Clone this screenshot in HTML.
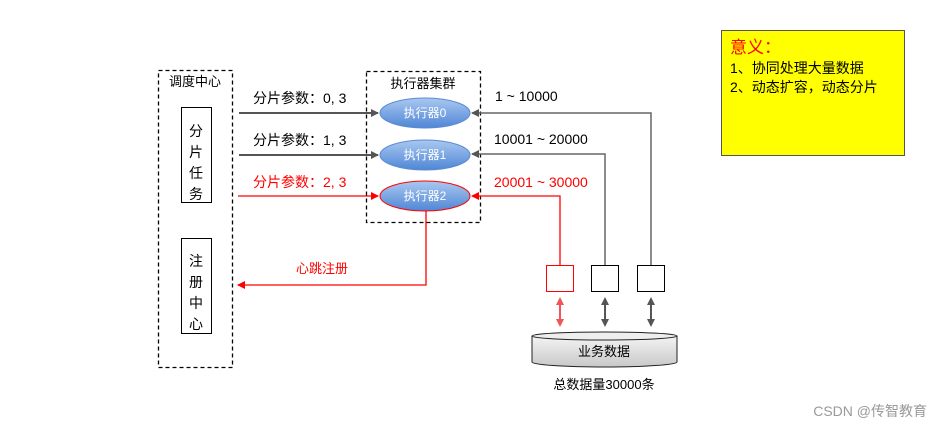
<!DOCTYPE html>
<html><head><meta charset="utf-8"><style>
html,body{margin:0;padding:0;background:#fff;}
svg{display:block;font-family:"Liberation Sans","Microsoft YaHei","Noto Sans CJK SC",sans-serif;}
</style></head><body>
<svg width="942" height="429" viewBox="0 0 942 429" xmlns="http://www.w3.org/2000/svg">
<defs>
<linearGradient id="eg" x1="0" y1="0" x2="0" y2="1"><stop offset="0" stop-color="#a9c8f0"/><stop offset="1" stop-color="#4f86d6"/></linearGradient>
<linearGradient id="cg" x1="0" y1="0" x2="0" y2="1"><stop offset="0" stop-color="#f4f4f4"/><stop offset="1" stop-color="#c8c8c8"/></linearGradient>
<marker id="ag" markerWidth="8" markerHeight="8" refX="7" refY="4" orient="auto" markerUnits="userSpaceOnUse"><path d="M0,0 L8,4 L0,8z" fill="#555"/></marker>
<marker id="ar" markerWidth="8" markerHeight="8" refX="7" refY="4" orient="auto" markerUnits="userSpaceOnUse"><path d="M0,0 L8,4 L0,8z" fill="#f00"/></marker>
<marker id="ag2" markerWidth="8" markerHeight="8" refX="4" refY="4" orient="auto-start-reverse" markerUnits="userSpaceOnUse"><path d="M0,0 L8,4 L0,8z" fill="#555"/></marker>
<marker id="ar2" markerWidth="8" markerHeight="8" refX="4" refY="4" orient="auto-start-reverse" markerUnits="userSpaceOnUse"><path d="M0,0 L8,4 L0,8z" fill="#e55"/></marker>
</defs>
<rect x="158.5" y="70.5" width="74" height="297" fill="none" stroke="#000" stroke-dasharray="4,3" stroke-width="1.3"/>
<text x="195" y="86" font-size="13" text-anchor="middle">调度中心</text>
<rect x="181.5" y="107.5" width="30" height="95" fill="#fff" stroke="#000"/>
<text font-size="14" text-anchor="middle"><tspan x="196" y="136">分</tspan><tspan x="196" y="157">片</tspan><tspan x="196" y="178">任</tspan><tspan x="196" y="199">务</tspan></text>
<rect x="181.5" y="238.5" width="30" height="95" fill="#fff" stroke="#000"/>
<text font-size="14" text-anchor="middle"><tspan x="196" y="266">注</tspan><tspan x="196" y="287">册</tspan><tspan x="196" y="308">中</tspan><tspan x="196" y="329">心</tspan></text>
<rect x="366.5" y="71.5" width="114" height="151" fill="none" stroke="#000" stroke-dasharray="4,3" stroke-width="1.3"/>
<text x="423" y="88" font-size="13" text-anchor="middle">执行器集群</text>
<line x1="239" y1="113" x2="378" y2="113" stroke="#555" stroke-width="2" marker-end="url(#ag)"/>
<line x1="239" y1="155" x2="378" y2="155" stroke="#555" stroke-width="2" marker-end="url(#ag)"/>
<line x1="238" y1="196" x2="378" y2="196" stroke="#f00" stroke-width="1.3" marker-end="url(#ar)"/>
<text x="253" y="103" font-size="14">分片参数：0, 3</text>
<text x="253" y="145" font-size="14">分片参数：1, 3</text>
<text x="253" y="187" font-size="14" fill="#f00">分片参数：2, 3</text>
<ellipse cx="425" cy="113" rx="45" ry="15" fill="url(#eg)" stroke="#5b8bd0"/>
<ellipse cx="425" cy="155" rx="45" ry="15" fill="url(#eg)" stroke="#5b8bd0"/>
<ellipse cx="425" cy="196" rx="45" ry="15" fill="url(#eg)" stroke="#f00"/>
<text x="425" y="117" font-size="12" fill="#fff" text-anchor="middle">执行器0</text>
<text x="425" y="159" font-size="12" fill="#fff" text-anchor="middle">执行器1</text>
<text x="425" y="200" font-size="12" fill="#fff" text-anchor="middle">执行器2</text>
<polyline points="651,265 651,113 472,113" fill="none" stroke="#666" stroke-width="1.5" marker-end="url(#ag)"/>
<polyline points="605,265 605,154 472,154" fill="none" stroke="#666" stroke-width="1.5" marker-end="url(#ag)"/>
<polyline points="560,265 560,196 472,196" fill="none" stroke="#f00" stroke-width="1.3" marker-end="url(#ar)"/>
<text x="495" y="101" font-size="14">1 ~ 10000</text>
<text x="494" y="144" font-size="14">10001 ~ 20000</text>
<text x="494" y="187" font-size="14" fill="#f00">20001 ~ 30000</text>
<polyline points="426,211 426,285 238,285" fill="none" stroke="#f00" stroke-width="1.3" marker-end="url(#ar)"/>
<text x="322" y="273" font-size="13" fill="#f00" text-anchor="middle">心跳注册</text>
<rect x="546.5" y="265.5" width="27" height="26" fill="#fff" stroke="#f00"/>
<rect x="591.5" y="265.5" width="27" height="26" fill="#fff" stroke="#000"/>
<rect x="637.5" y="265.5" width="27" height="26" fill="#fff" stroke="#000"/>
<line x1="560" y1="301" x2="560" y2="323" stroke="#e55" stroke-width="2" marker-start="url(#ar2)" marker-end="url(#ar2)"/>
<line x1="605" y1="301" x2="605" y2="323" stroke="#555" stroke-width="2" marker-start="url(#ag2)" marker-end="url(#ag2)"/>
<line x1="651" y1="301" x2="651" y2="323" stroke="#555" stroke-width="2" marker-start="url(#ag2)" marker-end="url(#ag2)"/>
<path d="M532,336 L532,362 A72,5 0 0 0 677,362 L677,336" fill="url(#cg)" stroke="#222"/>
<ellipse cx="604.5" cy="336" rx="72.5" ry="4" fill="#eee" stroke="#222"/>
<text x="604" y="356" font-size="13" text-anchor="middle">业务数据</text>
<text x="604" y="389" font-size="13" text-anchor="middle">总数据量30000条</text>
<rect x="721.5" y="30.5" width="183" height="125" fill="#ff0" stroke="#555"/>
<text x="730" y="53" font-size="17" fill="#f00">意义：</text>
<text x="730" y="73" font-size="14">1、协同处理大量数据</text>
<text x="730" y="92" font-size="14">2、动态扩容，动态分片</text>
<text x="927" y="416" font-size="14" fill="#999" text-anchor="end">CSDN @传智教育</text>
</svg>
</body></html>
